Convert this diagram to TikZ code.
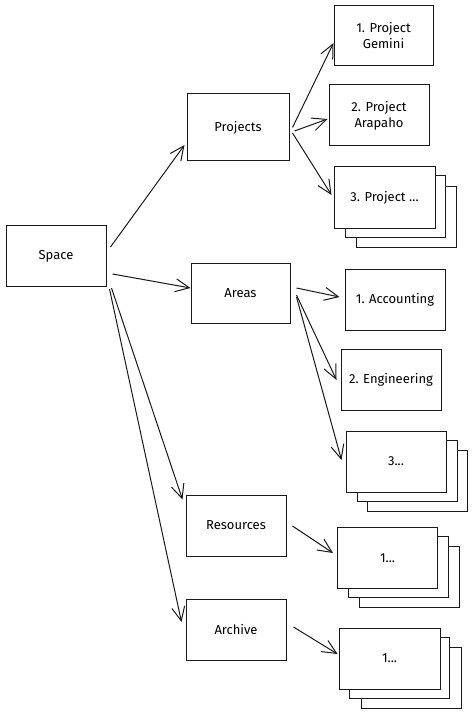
\documentclass[tikz,border=0pt]{standalone}
\usepackage{fontspec}
\setmainfont{Fira Sans}
\usetikzlibrary{arrows.meta}

\begin{document}
\begin{tikzpicture}[x=1pt, y=-1pt,
  card/.style={draw=black!90, fill=white, line width=1pt, inner sep=0pt,
    minimum width=100pt, minimum height=61pt, align=center,
    font=\fontsize{13}{16}\selectfont},
  arr/.style={draw=black!90, line width=1pt, -{Straight Barb[length=14pt, width=13pt, line width=1pt]}}]
\useasboundingbox (0,0) rectangle (474,714);

% PARA roots
\node[card] (space) at (56,256) {Space};
\node[card, minimum width=102pt, minimum height=67pt] (projects) at (238,127.5) {Projects};
\node[card, minimum width=99pt, minimum height=60pt] (areas) at (240.5,293) {Areas};
\node[card] (resources) at (236,525.5) {Resources};
\node[card] (archive) at (236,629.5) {Archive};

% projects
\node[card, minimum width=99pt, minimum height=60pt] (gemini) at (383.5,36) {1. Project\\Gemini};
\node[card] (arapaho) at (379,115.5) {2. Project\\Arapaho};
\node[card] (proj3c) at (406.5,216.5) {};
\node[card] (proj3b) at (395.5,206.5) {};
\node[card, minimum width=101pt] (proj3) at (384.5,197.5) {3. Project \dots};

% areas
\node[card] (accounting) at (395,299.5) {1. Accounting};
\node[card] (engineering) at (391,379.5) {2. Engineering};
\node[card] (area3c) at (417,480.5) {};
\node[card] (area3b) at (407,470.5) {};
\node[card] (area3) at (396,461.5) {3...};

% resources
\node[card] (res1c) at (409.5,577) {};
\node[card] (res1b) at (398.5,567) {};
\node[card] (res1) at (387.5,558) {1...};

% archive
\node[card] (arc1c) at (411.5,677.5) {};
\node[card] (arc1b) at (399.5,667.5) {};
\node[card, minimum width=101pt] (arc1) at (389.5,658.5) {1...};

\draw[arr] ([shift={(4,-9)}]space.east) -- ([shift={(-2,17.5)}]projects.west);
\draw[arr] ([shift={(6,18)}]space.east) -- ([shift={(0,-5)}]areas.west);
\draw[arr] ([shift={(5,1)}]space.south east) -- ([shift={(-3,5)}]resources.north west);
\draw[arr] ([shift={(3,2)}]space.south east) -- ([shift={(-4,-7.5)}]archive.west);

\draw[arr] ([shift={(3,0)}]projects.east) -- ([shift={(0,7)}]gemini.west);
\draw[arr] ([shift={(5,3.5)}]projects.east) -- ([shift={(-1,3.5)}]arapaho.west);
\draw[arr] ([shift={(3,5.5)}]projects.east) -- ([shift={(-2,-2.5)}]proj3.west);

\draw[arr] ([shift={(6,-5)}]areas.east) -- ([shift={(-5,-2.5)}]accounting.west);
\draw[arr] ([shift={(6,2)}]areas.east) -- ([shift={(-4,0.5)}]engineering.west);
\draw[arr] ([shift={(6,4)}]areas.east) -- ([shift={(-4,-1.5)}]area3.west);

\draw[arr] ([shift={(6,0.5)}]resources.east) -- ([shift={(-4,-5)}]res1.west);
\draw[arr] ([shift={(7,-2.5)}]archive.east) -- ([shift={(-1,-4.5)}]arc1.west);
\end{tikzpicture}
\end{document}
